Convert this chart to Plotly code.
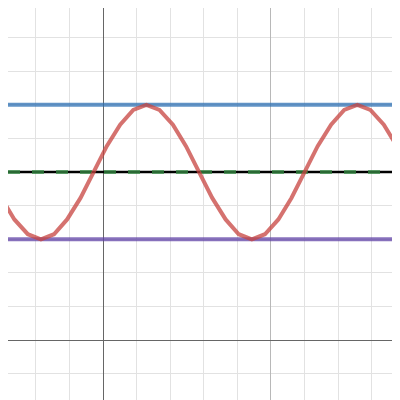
import plotly.graph_objects as go

# sine curve points (data units)
curve_x = [-3.03, -2.64, -2.24, -1.85, -1.46, -1.07, -0.67, -0.28, 0.11, 0.51, 0.90, 1.29,
           1.68, 2.08, 2.47, 2.86, 3.25, 3.65, 4.04, 4.43, 4.82, 5.22, 5.61, 6.00, 6.39,
           6.79, 7.18, 7.57, 7.96, 8.36, 8.75, 9.14]
curve_y = [4.23, 3.59, 3.15, 3.0, 3.15, 3.59, 4.23, 5.0, 5.77, 6.41, 6.85, 7.0,
           6.85, 6.41, 5.77, 5.0, 4.23, 3.59, 3.15, 3.0, 3.15, 3.59, 4.23, 5.0, 5.77,
           6.41, 6.85, 7.0, 6.85, 6.41, 5.77, 5.0]
upper_y = 7
mid_y = 5
lower_y = 3
x_range = [-2.83, 9.08]
y_range = [-2.02, 9.88]

fig = go.Figure()
fig.add_trace(go.Scatter(x=x_range, y=[upper_y]*2, mode="lines",
                         line=dict(color="#2d70b3", width=4), opacity=0.75))
fig.add_trace(go.Scatter(x=x_range, y=[lower_y]*2, mode="lines",
                         line=dict(color="#6042a6", width=4), opacity=0.75))
fig.add_trace(go.Scatter(x=x_range, y=[mid_y]*2, mode="lines",
                         line=dict(color="black", width=2.5)))
fig.add_trace(go.Scatter(x=x_range, y=[mid_y]*2, mode="lines",
                         line=dict(color="#388c46", width=4, dash="dash"), opacity=0.75))
fig.add_trace(go.Scatter(x=curve_x, y=curve_y, mode="lines",
                         line=dict(color="#c74440", width=4), opacity=0.75))

ax = dict(showticklabels=False, ticks="", dtick=5, tick0=0,
          gridcolor="#b8b8b8", gridwidth=1,
          minor=dict(dtick=1, gridcolor="#e2e2e2", gridwidth=1, showgrid=True),
          zeroline=True, zerolinecolor="#666", zerolinewidth=1.2, fixedrange=True,
          automargin=False, showline=False)
fig.update_layout(width=400, height=400,
                  margin=dict(l=0, r=0, t=0, b=0, pad=0, autoexpand=False),
                  plot_bgcolor="white", paper_bgcolor="white", showlegend=False,
                  xaxis=dict(range=x_range, **ax), yaxis=dict(range=y_range, **ax))
fig.write_html("out.html")
